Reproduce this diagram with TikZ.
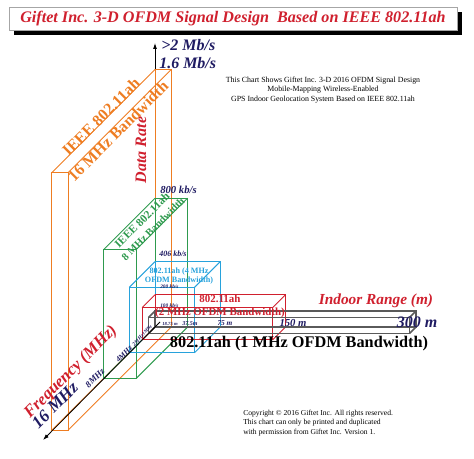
\documentclass[tikz,border=0pt]{standalone}
\usepackage{fontspec}
\setmainfont{Liberation Serif}
\usetikzlibrary{arrows.meta, backgrounds}

\definecolor{gfRed}{HTML}{D0202E}
\definecolor{gfNavy}{HTML}{1F1B62}
\definecolor{gfOrange}{HTML}{EE7D22}
\definecolor{gfGreen}{HTML}{2E9A4E}
\definecolor{gfBlue}{HTML}{27A2DC}
\definecolor{gfGray}{HTML}{5A5A5A}

\begin{document}
\begin{tikzpicture}[x=0.75pt, y=-0.75pt,
  hdr/.style={draw=gray!70,fill=white,line width=0.6pt,minimum width=336pt,minimum height=17.25pt,inner sep=0pt,text=gfRed,font=\fontsize{12.1}{14}\selectfont\bfseries\itshape},
  val/.style={inner sep=0pt,text=gfNavy,font=\fontsize{#1}{#1}\selectfont\bfseries\itshape},
  axl/.style={inner sep=0pt,text=gfRed,font=\fontsize{#1}{#1}\selectfont\bfseries\itshape},
  bw/.style={inner sep=0pt,font=\fontsize{#1}{#1}\selectfont\bfseries},
  note/.style={inner sep=0pt,font=\fontsize{5.9}{6.9}\selectfont},
  box/.style={line width=0.7pt},
  axis/.style={-{Latex[length=4.5pt,width=3pt]},line width=0.6pt,black}
]
  \useasboundingbox (0,0) rectangle (474,459);

  \node[hdr](title) at (233,18.5){Giftet Inc. 3-D OFDM Signal Design~~Based on IEEE 802.11ah};
  \begin{scope}[on background layer]
    \fill[black]([xshift=3.75pt,yshift=-3.75pt]title.south west) rectangle ([xshift=3.75pt,yshift=-3.75pt]title.north east);
  \end{scope}

  \coordinate (orig) at (155,327);
  \coordinate (rateTip) at (155,43);
  \coordinate (freqStart) at (160,322);
  \coordinate (freqTip) at (43,440);
  \draw[axis](orig)--(rateTip);

  % range (m) / data rate (kb/s) / bandwidth (MHz)
  \begin{scope}[shift={(orig)},x={(0.6525pt,0pt)},y={(0pt,0.12075pt)},z={(-4.8375pt,-4.8375pt)}]
    \foreach \w/\h/\d/\c/\lw in {18.75/1600/16/gfOrange/0.7pt,37.5/800/8/gfGreen/0.7pt,75/406/4/gfBlue/0.7pt,150/200/2/gfRed/0.7pt,300/100/1/gfGray/1.2pt}{
      \draw[box,draw=\c,line width=\lw](0,0,\d) rectangle (\w,\h,\d);
      \draw[box,draw=\c,line width=\lw](0,0,0)--(0,\h,0)--(\w,\h,0)--(\w,0,0)--cycle;
      \draw[box,draw=\c,line width=\lw](0,\h,\d)--(0,\h,0) (\w,\h,\d)--(\w,\h,0) (\w,0,\d)--(\w,0,0) (0,0,\d)--(0,0,0);
    }
  \end{scope}
  \draw[axis](freqStart)--(freqTip);

  % data rate axis
  \node[val=12,anchor=west](r2m) at (161,45){>2 Mb/s};
  \node[val=12,anchor=west](r16) at (159,63){1.6 Mb/s};
  \node[val=8,anchor=west](r800) at (160,190){800 kb/s};
  \node[val=6,anchor=west](r406) at (159,254){406 kb/s};
  \node[val=4,anchor=west](r200) at (160,287){200 kb/s};
  \node[val=4,anchor=west](r100) at (160,306){100 kb/s};
  \node[axl=12,rotate=90](rate) at (141,150){Data Rate};

  % bandwidth labels
  \node[bw=12,text=gfOrange,rotate=45](o1) at (101,117){IEEE 802.11ah};
  \node[bw=12,text=gfOrange,rotate=45](o2) at (118,131){16 MHz Bandwidth};
  \node[bw=8.5,text=gfGreen,rotate=45](g1) at (142,220){IEEE 802.11ah};
  \node[bw=8,text=gfGreen,rotate=45](g2) at (153,229){8 MHz Bandwidth};
  \node[bw=6.1,text=gfBlue,align=center,font=\fontsize{6.1}{6.8}\selectfont\bfseries](b1) at (179,276){802.11ah (4 MHz\\OFDM Bandwidth)};
  \node[bw=8.2,text=gfRed,align=center,font=\fontsize{8.2}{9.75}\selectfont\bfseries](rd) at (220,306.5){802.11ah\\(2 MHz OFDM Bandwidth)};
  \node[bw=12.2](gr) at (299,344){802.11ah (1 MHz OFDM Bandwidth)};

  % range axis
  \node[axl=11.5](range) at (376,301){Indoor Range (m)};
  \node[val=12](m300) at (417,322){300 m};
  \node[val=8](m150) at (293,323){150 m};
  \node[val=5.5](m75) at (225,323){75 m};
  \node[val=4.5](m37) at (190,324){37.5m};
  \node[val=3.5](m18) at (170,324){18.75 m};

  % frequency axis
  \node[val=3.5,rotate=45](f1) at (147,330){1MHz};
  \node[val=4,rotate=45](f2) at (138,340){2MHz};
  \node[val=5.8,rotate=45](f4) at (124,354){4MHz};
  \node[val=6.7,rotate=45](f8) at (95,378){8MHz};
  \node[val=13,rotate=45](f16) at (55,405){16 MHz};
  \node[axl=12.5,rotate=45](freq) at (71,372){Frequency (MHz)};

  % notes
  \node[note,align=center](about) at (323,90){This Chart Shows Giftet Inc. 3-D 2016 OFDM Signal Design\\Mobile-Mapping Wireless-Enabled\\GPS Indoor Geolocation System Based on IEEE 802.11ah};
  \node[note,align=left,anchor=west,font=\fontsize{5.7}{7.1}\selectfont](copy) at (243,423){Copyright © 2016 Giftet Inc. All rights reserved.\\This chart can only be printed and duplicated\\with permission from Giftet Inc. Version 1.};
\end{tikzpicture}
\end{document}
